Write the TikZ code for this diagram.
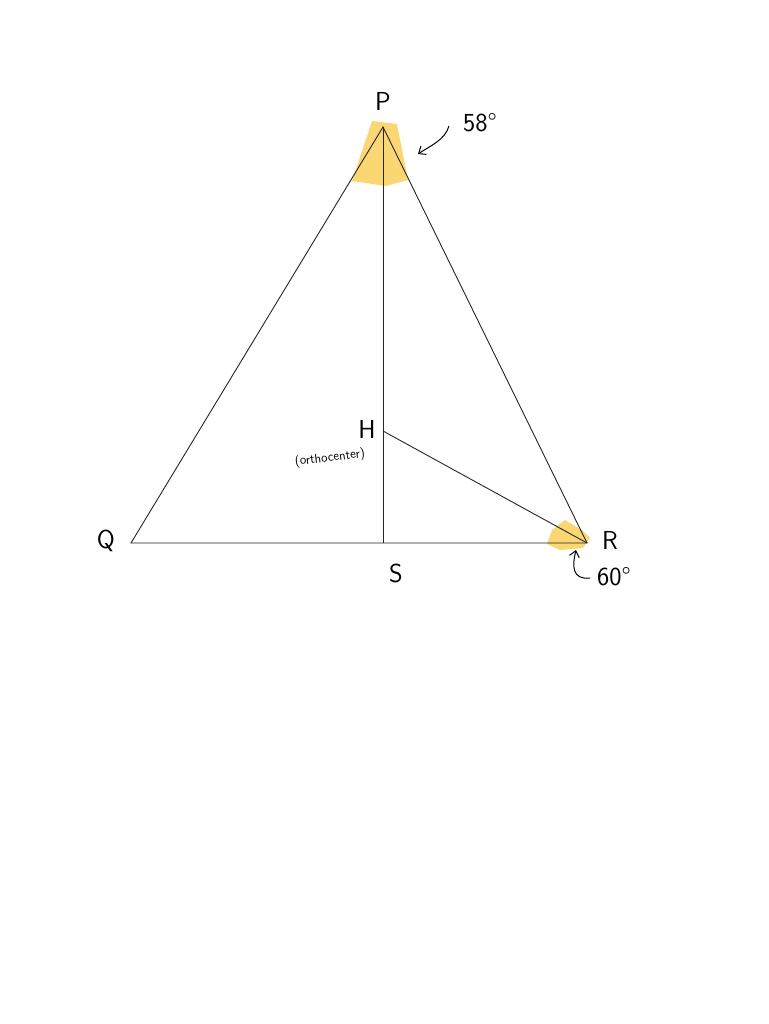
\documentclass[tikz,border=0pt]{standalone}
\usetikzlibrary{arrows.meta}
\definecolor{hl}{RGB}{250,208,90}
\tikzset{
  edge/.style={draw=black!85, line width=0.9pt},
  hlite/.style={fill=hl, opacity=0.85, draw=none},
  lbl/.style={font=\sffamily\fontsize{26}{28}\selectfont, inner sep=0pt},
  ann/.style={draw=black, line width=1pt, -{Straight Barb[length=6pt,width=10pt]}}
}
\begin{document}
\begin{tikzpicture}[x=1pt,y=-1pt]
\useasboundingbox[fill=white] (0,0) rectangle (768,1024);
% highlights
\fill[hlite] (372,121) -- (397,124) -- (408,180) -- (386,186) -- (352,181) -- cycle;
\fill[hlite] (565,520) -- (582,530) -- (590,538) -- (583,548) -- (560,550) -- (547,544) -- (552,530) -- cycle;
% points
\coordinate (P) at (383,127);
\coordinate (Q) at (131,543);
\coordinate (R) at (587,543);
\coordinate (S) at (383,543);
\coordinate (H) at (383,431);
\draw[edge] (P) -- (Q) -- (R) -- cycle;
\draw[edge] (P) -- (S);
\draw[edge] (H) -- (R);
% labels
\node[lbl] (lP) at (383,101) {P};
\node[lbl] (lQ) at (106,541) {Q};
\node[lbl] (lR) at (610,540) {R};
\node[lbl] (lS) at (396,573) {S};
\node[lbl] (lH) at (367,429) {H};
\node[font=\sffamily\fontsize{13}{14}\selectfont, inner sep=0pt, rotate=7] (lo) at (330,458) {(orthocenter)};
\node[lbl] (a58) at (480,123) {58\textdegree};
\node[lbl] (a60) at (614,577) {60\textdegree};
% annotation arrows
\coordinate (a1) at (449,126);
\coordinate (a1e) at (418,154);
\draw[ann] (a1) .. controls (445,140) and (430,146) .. (a1e);
\coordinate (a2) at (590,578);
\coordinate (a2e) at (576,550);
\draw[ann] (a2) .. controls (572,580) and (572,566) .. (a2e);
\end{tikzpicture}
\end{document}
